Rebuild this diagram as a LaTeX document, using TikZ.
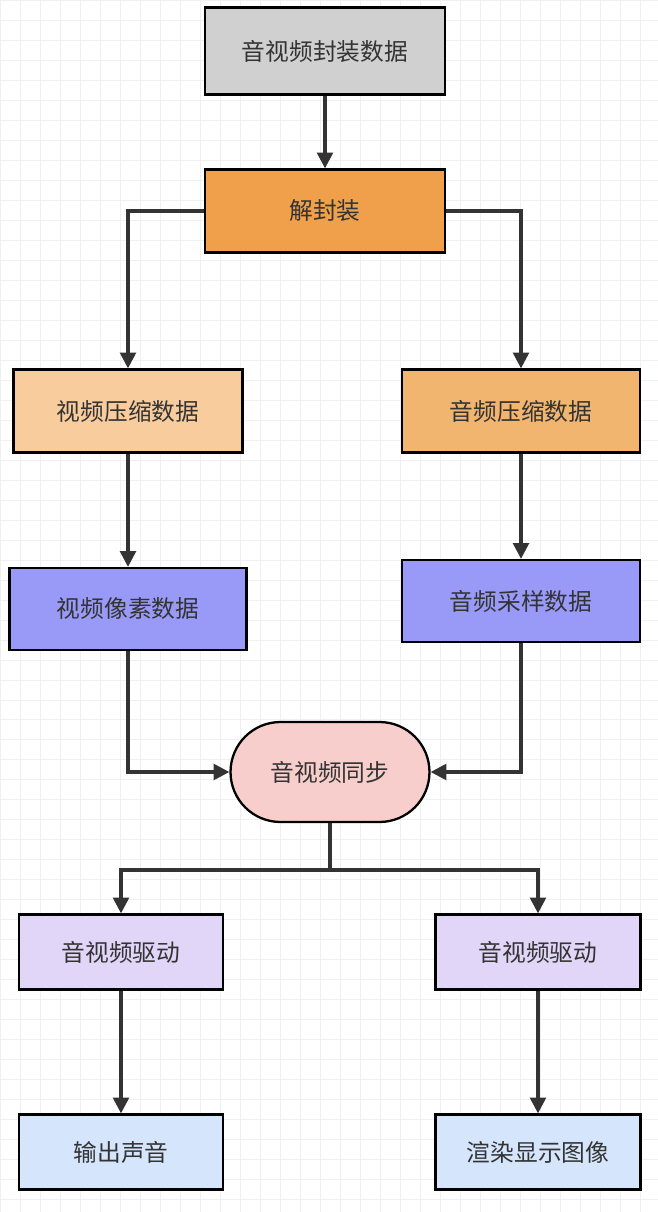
\documentclass[tikz,border=0pt]{standalone}
\usepackage{fontspec}
\setmainfont{Noto Sans CJK SC}
\usepackage{xcolor}
\usetikzlibrary{shapes, arrows.meta, positioning}
\definecolor{boxgray}{HTML}{D0D0D0}
\definecolor{boxorange}{HTML}{F0A04B}
\definecolor{boxpeach}{HTML}{F8CC9C}
\definecolor{boxtan}{HTML}{F2B570}
\definecolor{boxblue}{HTML}{9999F8}
\definecolor{boxpink}{HTML}{F8CECC}
\definecolor{boxlilac}{HTML}{E1D5F8}
\definecolor{boxsky}{HTML}{D4E5FC}
\definecolor{linegray}{HTML}{333333}
\tikzset{
  block/.style={draw, line width=1.3pt, font=\fontsize{13.5}{16}\selectfont\color{linegray}, inner sep=0pt},
  flow/.style={-{Triangle[length=9pt,width=9pt]}, line width=1.8pt, draw=linegray},
}
\begin{document}
\begin{tikzpicture}[x=0.02cm,y=-0.02cm]
% background grid
\useasboundingbox (0,0) rectangle (658,1212);
\fill[white] (0,0) rectangle (658,1212);
\draw[black!6, line width=0.4pt, step=0.4cm] (0,0) grid (658,1212);
% Source block
\node[block, fill=boxgray, minimum width=4.8cm, minimum height=1.74cm] (block1) at (325,51) {音视频封装数据};
% Demux block
\node[block, fill=boxorange, minimum width=4.8cm, minimum height=1.66cm] (block2) at (325,211) {解封装};
% Compressed data
\node[block, fill=boxpeach, minimum width=4.58cm, minimum height=1.66cm] (block3) at (128,411) {视频压缩数据};
\node[block, fill=boxtan, minimum width=4.76cm, minimum height=1.66cm] (block4) at (521,411) {音频压缩数据};
% Raw data
\node[block, fill=boxblue, minimum width=4.74cm, minimum height=1.64cm] (block5) at (128,609) {视频像素数据};
\node[block, fill=boxblue, minimum width=4.76cm, minimum height=1.64cm] (block6) at (521,601) {音频采样数据};
% Sync block
\node[block, rounded rectangle, fill=boxpink, minimum width=3.98cm, minimum height=2cm] (block7) at (330,772) {音视频同步};
% Drivers
\node[block, fill=boxlilac, minimum width=4.08cm, minimum height=1.5cm] (block8) at (121,952) {音视频驱动};
\node[block, fill=boxlilac, minimum width=4.1cm, minimum height=1.5cm] (block9) at (538,952) {音视频驱动};
% Outputs
\node[block, fill=boxsky, minimum width=4.08cm, minimum height=1.5cm] (block10) at (121,1152) {输出声音};
\node[block, fill=boxsky, minimum width=4.1cm, minimum height=1.5cm] (block11) at (538,1152) {渲染显示图像};
\coordinate (split) at (330,870);
% Arrows
\draw[flow] (block1) -- (block2);
\draw[flow] (block2.west) -| (block3.north);
\draw[flow] (block2.east) -| (block4.north);
\draw[flow] (block3) -- (block5);
\draw[flow] (block4) -- (block6);
\draw[flow] (block5.south) |- (block7.west);
\draw[flow] (block6.south) |- (block7.east);
\draw[line width=1.8pt, draw=linegray] (block7.south) -- (split);
\draw[flow] (split) -| (block8.north);
\draw[flow] (split) -| (block9.north);
\draw[flow] (block8) -- (block10);
\draw[flow] (block9) -- (block11);
\end{tikzpicture}
\end{document}
